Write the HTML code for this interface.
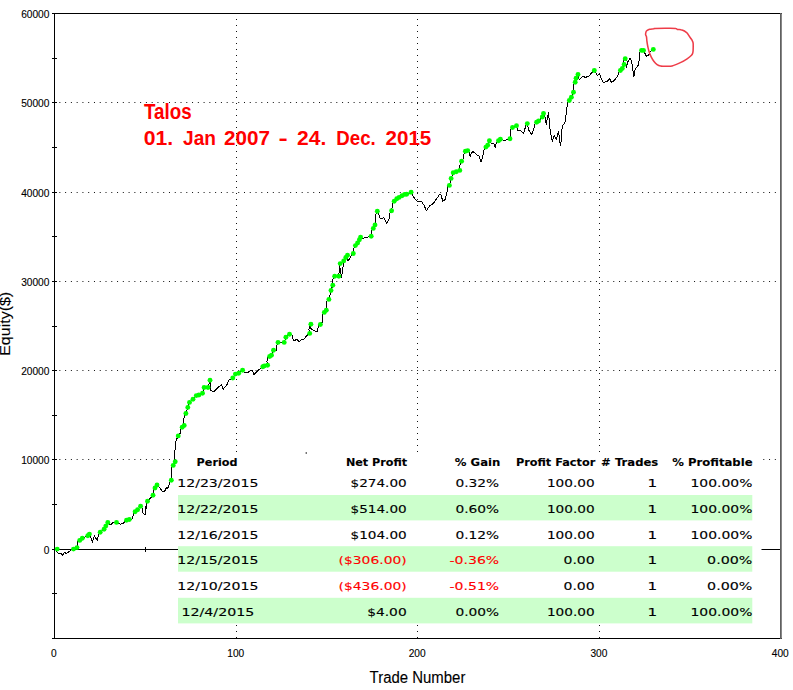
<!DOCTYPE html>
<html lang="en"><head><meta charset="utf-8"><title>Talos equity curve</title>
<style>html,body{margin:0;padding:0;background:#fff}svg{display:block}.ax{font-family:"Liberation Sans",Arial,sans-serif;fill:#000;stroke:#000;stroke-width:.12px}.tb{font-family:"DejaVu Sans",Verdana,sans-serif;fill:#000;stroke:#000;stroke-width:.12px}.tb .r{fill:#f00;stroke:#f00}.th{font-family:"DejaVu Sans",Verdana,sans-serif;font-weight:bold;fill:#000;stroke:#000;stroke-width:.1px}.tt{font-family:"Liberation Sans",Arial,sans-serif;font-weight:bold;fill:#f00}</style></head><body>
<svg width="793" height="690" viewBox="0 0 793 690">
<rect width="793" height="690" fill="#fff"/>
<g stroke="#111" stroke-width="1" fill="none">
<line x1="59.35" y1="459.5" x2="780" y2="459.5" stroke-dasharray="1 4.77"/>
<line x1="59.35" y1="370.5" x2="780" y2="370.5" stroke-dasharray="1 4.77"/>
<line x1="59.35" y1="281.5" x2="780" y2="281.5" stroke-dasharray="1 4.77"/>
<line x1="59.35" y1="192.5" x2="780" y2="192.5" stroke-dasharray="1 4.77"/>
<line x1="59.35" y1="102.5" x2="780" y2="102.5" stroke-dasharray="1 4.77"/>
<line x1="236.5" y1="19" x2="236.5" y2="638" stroke-dasharray="1 5" shape-rendering="crispEdges"/>
<line x1="417.5" y1="19" x2="417.5" y2="638" stroke-dasharray="1 5" shape-rendering="crispEdges"/>
<line x1="599.5" y1="19" x2="599.5" y2="638" stroke-dasharray="1 5" shape-rendering="crispEdges"/>
</g>
<g stroke="#000" stroke-width="1" shape-rendering="crispEdges" fill="none">
<line x1="52" y1="13.5" x2="781.6" y2="13.5"/>
<line x1="52" y1="638.5" x2="781.6" y2="638.5"/>
<line x1="54.5" y1="13" x2="54.5" y2="639"/>
<line x1="54" y1="549.5" x2="781" y2="549.5"/>
<line x1="52" y1="593.5" x2="57" y2="593.5"/>
<line x1="52" y1="549.5" x2="57" y2="549.5"/>
<line x1="52" y1="504.5" x2="57" y2="504.5"/>
<line x1="52" y1="459.5" x2="57" y2="459.5"/>
<line x1="52" y1="415.5" x2="57" y2="415.5"/>
<line x1="52" y1="370.5" x2="57" y2="370.5"/>
<line x1="52" y1="326.5" x2="57" y2="326.5"/>
<line x1="52" y1="281.5" x2="57" y2="281.5"/>
<line x1="52" y1="236.5" x2="57" y2="236.5"/>
<line x1="52" y1="192.5" x2="57" y2="192.5"/>
<line x1="52" y1="147.5" x2="57" y2="147.5"/>
<line x1="52" y1="102.5" x2="57" y2="102.5"/>
<line x1="52" y1="58.5" x2="57" y2="58.5"/>
<line x1="145.5" y1="547" x2="145.5" y2="552"/>
<line x1="326.5" y1="547" x2="326.5" y2="552"/>
<line x1="508.5" y1="547" x2="508.5" y2="552"/>
<line x1="689.5" y1="547" x2="689.5" y2="552"/>
</g>
<rect x="780" y="13" width="1.75" height="626" fill="#606060"/>
<polyline points="55.2,549.1 58.1,553.4 61.5,553.7 62.8,555.4 64.3,552.1 65.9,553.4 69.6,551.5 71.5,549.1 73.5,549.1 77.0,547.6 77.4,546.9 77.6,541.0 79.7,540.4 82.3,538.2 87.8,535.8 89.4,534.1 90.4,536.5 92.4,542.4 94.3,535.8 97.2,540.4 98.9,533.9 100.2,532.3 104.1,529.3 105.8,526.1 107.8,522.5 110.6,524.8 113.2,522.2 116.5,522.4 119.8,524.1 123.7,523.7 124.3,521.5 126.5,520.2 129.3,519.5 132.1,518.9 133.4,514.3 135.1,511.7 137.6,509.8 140.6,506.2 141.9,507.2 143.2,513.7 145.2,515.0 146.2,504.2 146.6,508.5 147.0,503.5 147.5,501.3 153.0,495.2 153.7,490.1 155.0,488.0 157.0,485.0 159.6,487.8 162.2,491.0 164.8,491.0 166.7,487.1 168.0,488.5 169.7,482.6 171.3,480.2 171.9,466.9 173.2,465.4 175.2,461.7 174.2,459.1 175.9,440.9 178.2,435.9 180.4,433.0 180.7,429.1 182.2,427.3 184.2,425.4 183.3,421.7 184.6,415.2 185.9,413.5 187.8,407.4 189.5,402.4 193.0,399.3 196.3,395.6 198.9,395.0 202.5,393.3 204.1,387.5 208.0,387.5 210.0,380.2 210.0,385.2 210.6,390.4 213.9,391.5 221.3,384.6 223.3,389.1 227.3,384.2 228.5,380.2 232.8,378.0 235.4,374.1 238.7,373.2 242.6,370.2 244.8,372.8 248.4,372.2 250.8,370.2 252.4,370.9 254.0,374.5 258.9,369.6 262.8,366.7 264.3,365.9 267.6,365.2 266.9,361.7 267.6,357.8 269.6,356.5 271.5,355.2 273.5,350.2 276.5,350.6 276.7,346.1 278.0,342.4 284.2,342.4 285.9,337.2 289.5,334.3 292.0,335.0 293.4,340.8 296.9,339.5 299.2,341.5 301.5,339.5 304.1,338.9 307.4,335.0 309.7,333.4 308.9,329.1 310.9,324.3 310.0,327.8 313.2,330.4 317.1,331.5 318.7,325.9 320.4,324.5 322.4,321.9 322.6,314.8 324.3,312.4 326.3,310.2 326.3,301.7 328.9,299.4 331.0,290.5 332.8,285.3 332.4,280.1 334.7,276.3 338.8,276.3 339.5,264.5 341.5,277.5 343.4,264.5 343.7,260.9 345.8,257.5 347.5,255.2 348.0,261.0 352.4,254.0 353.3,253.5 354.2,247.0 355.4,245.6 357.6,243.0 359.4,239.7 360.6,237.1 362.9,238.3 367.2,237.1 371.2,236.2 371.6,230.5 373.3,228.4 375.0,224.9 375.6,214.8 377.3,211.3 380.3,218.3 383.8,217.9 386.7,223.5 389.0,219.2 390.2,212.2 391.6,210.8 392.8,203.5 394.2,201.2 396.8,198.8 399.1,197.4 402.0,195.7 404.6,194.4 406.7,194.3 411.1,192.2 413.5,197.0 417.2,201.4 421.5,201.4 424.1,205.4 426.4,210.6 429.4,206.1 433.7,203.1 437.2,197.9 439.3,194.8 441.0,194.8 442.8,201.4 445.0,199.6 446.8,193.6 447.6,186.6 449.4,185.4 451.1,178.4 453.2,172.7 456.3,171.8 459.8,170.4 459.3,166.6 461.6,161.3 463.3,158.7 464.2,152.6 465.4,151.3 467.7,150.6 469.4,152.6 470.3,157.0 471.1,153.2 472.9,151.4 476.4,154.4 479.0,156.1 481.1,161.9 482.8,156.1 484.2,149.2 485.9,147.1 487.7,145.3 489.4,140.8 492.0,143.9 494.1,143.9 495.2,147.4 496.4,142.2 498.5,140.8 500.4,139.2 504.2,140.5 510.0,138.7 510.8,129.2 512.5,127.5 516.5,125.7 517.4,130.1 520.0,130.1 523.5,133.6 526.1,124.8 527.3,123.6 528.7,130.1 531.7,134.4 533.9,128.3 535.3,123.1 536.6,122.2 538.6,121.0 542.3,117.0 543.5,113.5 545.1,117.0 546.3,124.6 547.6,116.8 548.5,113.0 549.0,118.0 549.6,126.0 550.6,133.3 552.3,141.7 554.2,135.5 556.4,139.1 558.5,131.5 560.4,145.7 561.4,139.5 562.2,125.4 564.3,123.9 565.4,121.0 566.5,110.9 567.6,102.2 569.3,100.5 571.4,97.3 573.5,92.3 573.6,84.8 575.2,82.2 576.1,78.2 578.0,74.4 579.2,79.6 582.7,76.1 585.3,77.5 589.6,75.8 591.7,72.6 594.3,70.5 597.5,75.8 599.6,73.5 601.0,77.9 603.0,82.3 606.8,81.6 609.6,78.8 611.6,82.5 614.4,80.2 617.9,76.0 618.6,72.6 620.4,70.5 622.3,68.4 624.1,64.5 623.4,60.1 625.2,58.7 627.6,61.5 626.2,67.7 628.3,60.8 630.1,58.3 631.8,62.2 633.8,76.7 635.2,69.1 638.0,65.6 639.4,59.4 639.7,52.4 641.5,50.4 643.5,50.4 646.6,56.6 649.1,54.5 650.5,51.1 653.3,49.4" fill="none" stroke="#000" stroke-width="1" stroke-linejoin="round" shape-rendering="crispEdges"/>
<g fill="#00ff00">
<circle cx="57.2" cy="549.1" r="2.45"/>
<circle cx="73.5" cy="549.1" r="2.45"/>
<circle cx="77.0" cy="547.6" r="2.45"/>
<circle cx="79.7" cy="540.4" r="2.45"/>
<circle cx="82.3" cy="538.2" r="2.45"/>
<circle cx="87.8" cy="535.8" r="2.45"/>
<circle cx="89.4" cy="534.1" r="2.45"/>
<circle cx="100.2" cy="532.3" r="2.45"/>
<circle cx="104.1" cy="529.3" r="2.45"/>
<circle cx="105.8" cy="526.1" r="2.45"/>
<circle cx="107.8" cy="522.5" r="2.45"/>
<circle cx="116.5" cy="522.4" r="2.45"/>
<circle cx="126.5" cy="520.2" r="2.45"/>
<circle cx="129.3" cy="519.5" r="2.45"/>
<circle cx="135.1" cy="511.7" r="2.45"/>
<circle cx="137.6" cy="509.8" r="2.45"/>
<circle cx="140.6" cy="506.2" r="2.45"/>
<circle cx="147.5" cy="501.3" r="2.45"/>
<circle cx="153.0" cy="495.2" r="2.45"/>
<circle cx="155.0" cy="488.0" r="2.45"/>
<circle cx="157.0" cy="485.0" r="2.45"/>
<circle cx="171.3" cy="480.2" r="2.45"/>
<circle cx="173.2" cy="465.4" r="2.45"/>
<circle cx="175.2" cy="461.7" r="2.45"/>
<circle cx="178.2" cy="435.9" r="2.45"/>
<circle cx="182.2" cy="427.3" r="2.45"/>
<circle cx="184.2" cy="425.4" r="2.45"/>
<circle cx="185.9" cy="413.5" r="2.45"/>
<circle cx="187.8" cy="407.4" r="2.45"/>
<circle cx="189.5" cy="402.4" r="2.45"/>
<circle cx="193.0" cy="399.3" r="2.45"/>
<circle cx="196.3" cy="395.6" r="2.45"/>
<circle cx="198.9" cy="395.0" r="2.45"/>
<circle cx="202.5" cy="393.3" r="2.45"/>
<circle cx="204.1" cy="387.5" r="2.45"/>
<circle cx="208.0" cy="387.5" r="2.45"/>
<circle cx="210.0" cy="380.2" r="2.45"/>
<circle cx="232.8" cy="378.0" r="2.45"/>
<circle cx="235.4" cy="374.1" r="2.45"/>
<circle cx="238.7" cy="373.2" r="2.45"/>
<circle cx="242.6" cy="370.2" r="2.45"/>
<circle cx="262.8" cy="366.7" r="2.45"/>
<circle cx="264.3" cy="365.9" r="2.45"/>
<circle cx="267.6" cy="365.2" r="2.45"/>
<circle cx="269.6" cy="356.5" r="2.45"/>
<circle cx="271.5" cy="355.2" r="2.45"/>
<circle cx="273.5" cy="350.2" r="2.45"/>
<circle cx="278.0" cy="342.4" r="2.45"/>
<circle cx="284.2" cy="342.4" r="2.45"/>
<circle cx="285.9" cy="337.2" r="2.45"/>
<circle cx="289.5" cy="334.3" r="2.45"/>
<circle cx="309.7" cy="333.4" r="2.45"/>
<circle cx="310.9" cy="324.3" r="2.45"/>
<circle cx="320.4" cy="324.5" r="2.45"/>
<circle cx="324.3" cy="312.4" r="2.45"/>
<circle cx="326.3" cy="310.2" r="2.45"/>
<circle cx="328.9" cy="299.4" r="2.45"/>
<circle cx="331.0" cy="290.5" r="2.45"/>
<circle cx="332.8" cy="285.3" r="2.45"/>
<circle cx="334.7" cy="276.3" r="2.45"/>
<circle cx="338.8" cy="276.3" r="2.45"/>
<circle cx="340.2" cy="263.6" r="2.45"/>
<circle cx="343.7" cy="260.9" r="2.45"/>
<circle cx="345.8" cy="257.5" r="2.45"/>
<circle cx="347.5" cy="255.2" r="2.45"/>
<circle cx="353.3" cy="253.5" r="2.45"/>
<circle cx="355.4" cy="245.6" r="2.45"/>
<circle cx="357.6" cy="243.0" r="2.45"/>
<circle cx="359.4" cy="239.7" r="2.45"/>
<circle cx="360.6" cy="237.1" r="2.45"/>
<circle cx="371.2" cy="236.2" r="2.45"/>
<circle cx="373.3" cy="228.4" r="2.45"/>
<circle cx="375.0" cy="224.9" r="2.45"/>
<circle cx="377.3" cy="211.3" r="2.45"/>
<circle cx="391.6" cy="210.8" r="2.45"/>
<circle cx="394.2" cy="201.2" r="2.45"/>
<circle cx="396.8" cy="198.8" r="2.45"/>
<circle cx="399.1" cy="197.4" r="2.45"/>
<circle cx="402.0" cy="195.7" r="2.45"/>
<circle cx="404.6" cy="194.4" r="2.45"/>
<circle cx="406.7" cy="194.3" r="2.45"/>
<circle cx="411.1" cy="192.2" r="2.45"/>
<circle cx="449.4" cy="185.4" r="2.45"/>
<circle cx="451.1" cy="178.4" r="2.45"/>
<circle cx="453.2" cy="172.7" r="2.45"/>
<circle cx="456.3" cy="171.8" r="2.45"/>
<circle cx="459.8" cy="170.4" r="2.45"/>
<circle cx="461.6" cy="161.3" r="2.45"/>
<circle cx="465.4" cy="151.3" r="2.45"/>
<circle cx="467.7" cy="150.6" r="2.45"/>
<circle cx="485.9" cy="147.1" r="2.45"/>
<circle cx="487.7" cy="145.3" r="2.45"/>
<circle cx="489.4" cy="140.8" r="2.45"/>
<circle cx="498.5" cy="140.8" r="2.45"/>
<circle cx="500.4" cy="139.2" r="2.45"/>
<circle cx="510.0" cy="138.7" r="2.45"/>
<circle cx="512.5" cy="127.5" r="2.45"/>
<circle cx="516.5" cy="125.7" r="2.45"/>
<circle cx="527.3" cy="123.6" r="2.45"/>
<circle cx="536.6" cy="122.2" r="2.45"/>
<circle cx="538.6" cy="121.0" r="2.45"/>
<circle cx="542.3" cy="117.0" r="2.45"/>
<circle cx="543.5" cy="113.5" r="2.45"/>
<circle cx="569.3" cy="100.5" r="2.45"/>
<circle cx="571.4" cy="97.3" r="2.45"/>
<circle cx="573.5" cy="92.3" r="2.45"/>
<circle cx="575.2" cy="82.2" r="2.45"/>
<circle cx="576.1" cy="78.2" r="2.45"/>
<circle cx="578.0" cy="74.4" r="2.45"/>
<circle cx="594.3" cy="70.5" r="2.45"/>
<circle cx="620.4" cy="70.5" r="2.45"/>
<circle cx="622.3" cy="68.4" r="2.45"/>
<circle cx="624.1" cy="64.5" r="2.45"/>
<circle cx="625.2" cy="58.7" r="2.45"/>
<circle cx="641.5" cy="50.4" r="2.45"/>
<circle cx="643.5" cy="50.4" r="2.45"/>
<circle cx="653.3" cy="49.4" r="2.45"/>
</g>
<path d="M646.0,31.9C646.2,31.2 646.3,31.0 646.9,30.6C647.5,30.2 648.4,29.6 649.6,29.3C650.8,29.0 653.1,29.0 654.0,28.8C654.9,28.6 653.1,28.5 654.9,28.4C656.7,28.3 661.5,28.3 665.0,28.3C668.5,28.3 673.5,28.2 675.6,28.4C677.7,28.6 676.5,29.3 677.4,29.5C678.3,29.7 679.7,29.4 680.9,29.7C682.1,29.9 683.4,30.4 684.4,31.0C685.4,31.6 686.3,32.2 687.1,33.1C687.9,34.0 688.5,35.2 689.3,36.3C690.1,37.4 691.3,38.8 691.9,39.9C692.5,41.0 692.9,41.6 693.1,42.9C693.3,44.2 693.2,46.2 693.2,47.8C693.2,49.4 693.1,51.5 692.8,52.7C692.5,54.0 692.5,54.3 691.5,55.3C690.5,56.3 688.9,57.6 687.1,58.8C685.3,60.0 683.4,61.2 680.9,62.4C678.4,63.6 674.6,65.3 672.1,65.9C669.6,66.5 667.9,66.2 666.0,66.2C664.1,66.2 662.1,66.4 660.6,66.1C659.1,65.8 658.2,65.4 657.1,64.6C656.0,63.8 655.0,62.8 654.0,61.5C653.0,60.2 652.1,58.7 651.3,57.1C650.5,55.5 649.7,53.6 649.1,51.8C648.5,50.0 648.2,48.3 647.8,46.5C647.4,44.7 647.1,42.8 646.9,41.2C646.7,39.6 646.7,37.9 646.5,36.8C646.3,35.7 645.7,35.4 645.6,34.6C645.5,33.8 645.8,32.6 646.0,31.9" fill="none" stroke="#ee3c48" stroke-width="1.55" stroke-linejoin="round"/>
<text class="tt" font-size="21.5" x="144" y="118.7" textLength="47.6" lengthAdjust="spacingAndGlyphs">Talos</text>
<text class="tt" font-size="21" y="144.9"><tspan x="143.7" textLength="29.4" lengthAdjust="spacingAndGlyphs">01.</tspan> <tspan x="183.1" textLength="32.9" lengthAdjust="spacingAndGlyphs">Jan</tspan> <tspan x="224.0" textLength="46.0" lengthAdjust="spacingAndGlyphs">2007</tspan> <tspan x="278.5" textLength="9.2" lengthAdjust="spacingAndGlyphs">-</tspan> <tspan x="297.1" textLength="29.2" lengthAdjust="spacingAndGlyphs">24.</tspan> <tspan x="336.3" textLength="39.4" lengthAdjust="spacingAndGlyphs">Dec.</tspan> <tspan x="385.5" textLength="45.8" lengthAdjust="spacingAndGlyphs">2015</tspan></text>
<g class="ax" font-size="11" text-anchor="end">
<text transform="translate(49.4 553.9) scale(.925 1)">0</text>
<text transform="translate(49.4 463.9) scale(.925 1)">10000</text>
<text transform="translate(49.4 374.9) scale(.925 1)">20000</text>
<text transform="translate(49.4 285.9) scale(.925 1)">30000</text>
<text transform="translate(49.4 196.9) scale(.925 1)">40000</text>
<text transform="translate(49.4 106.9) scale(.925 1)">50000</text>
<text transform="translate(49.4 17.9) scale(.925 1)">60000</text>
</g>
<g class="ax" font-size="11" text-anchor="middle">
<text transform="translate(53.8 657.3) scale(.925 1)">0</text>
<text transform="translate(235.8 657.3) scale(.925 1)">100</text>
<text transform="translate(417.2 657.3) scale(.925 1)">200</text>
<text transform="translate(598.9 657.3) scale(.925 1)">300</text>
<text transform="translate(780.3 657.3) scale(.925 1)">400</text>
</g>
<text class="ax" font-size="16" x="369.6" y="682.9" textLength="95.8" lengthAdjust="spacingAndGlyphs">Trade Number</text>
<text class="ax" font-size="16" text-anchor="middle" transform="translate(9.7 323.8) scale(0.925 1) rotate(-90)">Equity($)</text>
<rect x="178" y="453" width="583.5" height="171.5" fill="#fff"/>
<rect x="178" y="495.0" width="574.3" height="25.4" fill="#ccffcc"/>
<rect x="178" y="546.2" width="574.3" height="25.5" fill="#ccffcc"/>
<rect x="178" y="597.8" width="574.3" height="25.6" fill="#ccffcc"/>
<rect x="305.6" y="452.4" width="1.3" height="1.2" fill="#000"/>
<g class="th" font-size="11">
<text x="196.6" y="466.1" textLength="40.9" lengthAdjust="spacingAndGlyphs">Period</text>
<text x="345.9" y="466.1" textLength="61.2" lengthAdjust="spacingAndGlyphs">Net Profit</text>
<text x="454.8" y="466.1" textLength="45.6" lengthAdjust="spacingAndGlyphs">% Gain</text>
<text x="515.9" y="466.1" textLength="79.4" lengthAdjust="spacingAndGlyphs">Profit Factor</text>
<text x="601.1" y="466.1" textLength="57.2" lengthAdjust="spacingAndGlyphs"># Trades</text>
<text x="672.3" y="466.1" textLength="80.3" lengthAdjust="spacingAndGlyphs">% Profitable</text>
</g>
<g class="tb" font-size="11">
<text x="177.2" y="487.1" textLength="81.3" lengthAdjust="spacingAndGlyphs">12/23/2015</text>
<text x="350.5" y="487.1" textLength="56.2" lengthAdjust="spacingAndGlyphs">$274.00</text>
<text x="455.4" y="487.1" textLength="43.8" lengthAdjust="spacingAndGlyphs">0.32%</text>
<text x="546.9" y="487.1" textLength="47.8" lengthAdjust="spacingAndGlyphs">100.00</text>
<text x="647.5" y="487.1" textLength="9.7" lengthAdjust="spacingAndGlyphs">1</text>
<text x="690.5" y="487.1" textLength="61.9" lengthAdjust="spacingAndGlyphs">100.00%</text>
<text x="177.2" y="512.9" textLength="81.3" lengthAdjust="spacingAndGlyphs">12/22/2015</text>
<text x="350.5" y="512.9" textLength="56.2" lengthAdjust="spacingAndGlyphs">$514.00</text>
<text x="455.4" y="512.9" textLength="43.8" lengthAdjust="spacingAndGlyphs">0.60%</text>
<text x="546.9" y="512.9" textLength="47.8" lengthAdjust="spacingAndGlyphs">100.00</text>
<text x="647.5" y="512.9" textLength="9.7" lengthAdjust="spacingAndGlyphs">1</text>
<text x="690.5" y="512.9" textLength="61.9" lengthAdjust="spacingAndGlyphs">100.00%</text>
<text x="177.2" y="538.6" textLength="81.3" lengthAdjust="spacingAndGlyphs">12/16/2015</text>
<text x="350.5" y="538.6" textLength="56.2" lengthAdjust="spacingAndGlyphs">$104.00</text>
<text x="455.4" y="538.6" textLength="43.8" lengthAdjust="spacingAndGlyphs">0.12%</text>
<text x="546.9" y="538.6" textLength="47.8" lengthAdjust="spacingAndGlyphs">100.00</text>
<text x="647.5" y="538.6" textLength="9.7" lengthAdjust="spacingAndGlyphs">1</text>
<text x="690.5" y="538.6" textLength="61.9" lengthAdjust="spacingAndGlyphs">100.00%</text>
<text x="177.2" y="564.4" textLength="81.3" lengthAdjust="spacingAndGlyphs">12/15/2015</text>
<text x="338.6" y="564.4" textLength="68.1" lengthAdjust="spacingAndGlyphs" class="r">($306.00)</text>
<text x="449.5" y="564.4" textLength="49.7" lengthAdjust="spacingAndGlyphs" class="r">-0.36%</text>
<text x="563.5" y="564.4" textLength="31.2" lengthAdjust="spacingAndGlyphs">0.00</text>
<text x="647.5" y="564.4" textLength="9.7" lengthAdjust="spacingAndGlyphs">1</text>
<text x="707.1" y="564.4" textLength="45.3" lengthAdjust="spacingAndGlyphs">0.00%</text>
<text x="177.2" y="590.1" textLength="81.3" lengthAdjust="spacingAndGlyphs">12/10/2015</text>
<text x="338.6" y="590.1" textLength="68.1" lengthAdjust="spacingAndGlyphs" class="r">($436.00)</text>
<text x="449.5" y="590.1" textLength="49.7" lengthAdjust="spacingAndGlyphs" class="r">-0.51%</text>
<text x="563.5" y="590.1" textLength="31.2" lengthAdjust="spacingAndGlyphs">0.00</text>
<text x="647.5" y="590.1" textLength="9.7" lengthAdjust="spacingAndGlyphs">1</text>
<text x="707.1" y="590.1" textLength="45.3" lengthAdjust="spacingAndGlyphs">0.00%</text>
<text x="181.4" y="615.9" textLength="73.0" lengthAdjust="spacingAndGlyphs">12/4/2015</text>
<text x="367.2" y="615.9" textLength="39.5" lengthAdjust="spacingAndGlyphs">$4.00</text>
<text x="455.4" y="615.9" textLength="43.8" lengthAdjust="spacingAndGlyphs">0.00%</text>
<text x="546.9" y="615.9" textLength="47.8" lengthAdjust="spacingAndGlyphs">100.00</text>
<text x="647.5" y="615.9" textLength="9.7" lengthAdjust="spacingAndGlyphs">1</text>
<text x="690.5" y="615.9" textLength="61.9" lengthAdjust="spacingAndGlyphs">100.00%</text>
</g>
</svg></body></html>
